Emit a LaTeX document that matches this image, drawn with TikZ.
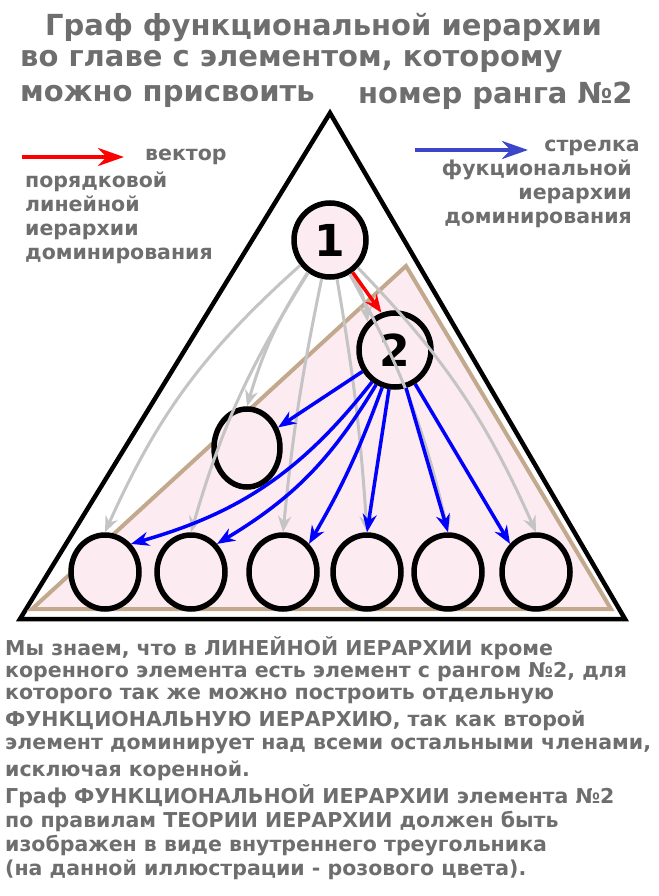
\documentclass[tikz,border=0pt]{standalone}
\usepackage{fontspec}
\setmainfont{DejaVu Sans}
\usetikzlibrary{arrows.meta,shapes.geometric}
\definecolor{txtgray}{HTML}{6E6E6E}
\definecolor{pinkfill}{HTML}{FCEBF0}
\definecolor{brown1}{HTML}{C2A88C}
\definecolor{arrgray}{HTML}{C4C4C4}
\definecolor{legblue}{HTML}{3C46C8}
\begin{document}
\begin{tikzpicture}[x=1pt,y=-1pt,
  circ/.style={draw=black,line width=5.5pt,fill=pinkfill,ellipse,inner sep=0pt},
  grayarr/.style={draw=arrgray,line width=3pt,-{Stealth[length=16pt,width=13pt]}},
  bluearr/.style={draw=blue,line width=3.5pt,-{Stealth[length=18pt,width=14pt]}},
  title/.style={text=txtgray,font=\bfseries\fontsize{29}{32}\selectfont,anchor=west,inner sep=0pt},
  leg/.style={text=txtgray,font=\bfseries\fontsize{20.5}{24}\selectfont,inner sep=0pt},
  para/.style={text=txtgray,font=\bfseries\fontsize{20.5}{24}\selectfont,anchor=west,inner sep=0pt}]
\useasboundingbox (0,0) rectangle (658,896);
\fill[white] (0,0) rectangle (658,896);
% triangles
\draw[line width=4.5pt,fill=white,line join=miter] (330,113) -- (625,619) -- (20,619) -- cycle;
\draw[draw=brown1,line width=4pt,fill=pinkfill] (406,266) -- (611,609) -- (32,609) -- cycle;
% nodes
\node[circ,minimum width=72pt,minimum height=74pt,font=\bfseries\fontsize{44}{44}\selectfont] (n1) at (330,240) {1};
\node[circ,minimum width=72pt,minimum height=74pt,font=\bfseries\fontsize{44}{44}\selectfont] (n2) at (395,350) {2};
\node[circ,minimum width=66pt,minimum height=78pt] (m) at (247,448) {};
\foreach \i/\x in {1/105,2/191,3/283,4/367,5/448,6/536}{
  \node[circ,minimum width=68pt,minimum height=74pt] (b\i) at (\x,572) {};
}
% gray arrows
\draw[grayarr] (n1) to[bend right=8] (m.north);
\draw[grayarr] (n1) to[bend right=12] (b1.north);
\draw[grayarr] (n1) to[bend right=8] (b2.north);
\draw[grayarr] (n1) to[bend right=3] (b3.north);
\draw[grayarr] (n1) to[bend left=3] (b4.north);
\draw[grayarr] (n1) to[bend left=8] (b5.north);
\draw[grayarr] (n1) to[bend left=10] (b6.north);
\draw[grayarr] (n1) to[bend left=10] (n2.north west);
% red arrow
\draw[draw=red,line width=3.5pt,-{Stealth[length=18pt,width=14pt]}] (n1.-55) -- (n2.110);
% blue arrows
\draw[bluearr] (n2) -- (m);
\draw[bluearr] (n2) to[bend left=18] (b1.north east);
\draw[bluearr] (n2) to[bend left=14] (b2.north east);
\draw[bluearr] (n2) to[bend left=5] (b3.north east);
\draw[bluearr] (n2) -- (b4.north);
\draw[bluearr] (n2) -- (b5.north);
\draw[bluearr] (n2) -- (b6.north west);
% legend
\coordinate (r1) at (22,157); \coordinate (r2) at (124,157);
\draw[draw=red,line width=4.5pt,-{Stealth[length=26pt,width=18pt]}] (r1) -- (r2);
\node[leg,anchor=west] (lv) at (145,157) {вектор};
\node[leg,anchor=north west,align=left] (lt) at (25,172) {порядковой\\линейной\\иерархии\\доминирования};
\coordinate (u1) at (415,150); \coordinate (u2) at (528,150);
\draw[draw=legblue,line width=4.5pt,-{Stealth[length=26pt,width=18pt]}] (u1) -- (u2);
\node[leg,anchor=east] (ls) at (640,148) {стрелка};
\node[leg,anchor=north east,align=right] (lu) at (632,160) {фукциональной\\иерархии\\доминирования};
% title
\node[title] (t1) at (45,28) {Граф функциональной иерархии};
\node[title] (t2) at (20,62) {во главе с элементом, которому};
\node[title] (t3) at (20,96) {можно присвоить};
\node[title] (t4) at (358,96) {номер ранга №2};
% paragraph
\node[para] (p1) at (5,648) {Мы знаем, что в ЛИНЕЙНОЙ ИЕРАРХИИ кроме};
\node[para] (p2) at (5,672) {коренного элемента есть элемент с рангом №2, для};
\node[para] (p3) at (5,696) {которого так же можно построить отдельную};
\node[para] (p4) at (5,721) {ФУНКЦИОНАЛЬНУЮ ИЕРАРХИЮ, так как второй};
\node[para] (p5) at (5,746) {элемент доминирует над всеми остальными членами,};
\node[para] (p6) at (5,771) {исключая коренной.};
\node[para] (p7) at (5,796) {Граф ФУНКЦИОНАЛЬНОЙ ИЕРАРХИИ элемента №2};
\node[para] (p8) at (5,821) {по правилам ТЕОРИИ ИЕРАРХИИ должен быть};
\node[para] (p9) at (5,846) {изображен в виде внутреннего треугольника};
\node[para] (p10) at (5,870) {(на данной иллюстрации - розового цвета).};
\end{tikzpicture}
\end{document}
